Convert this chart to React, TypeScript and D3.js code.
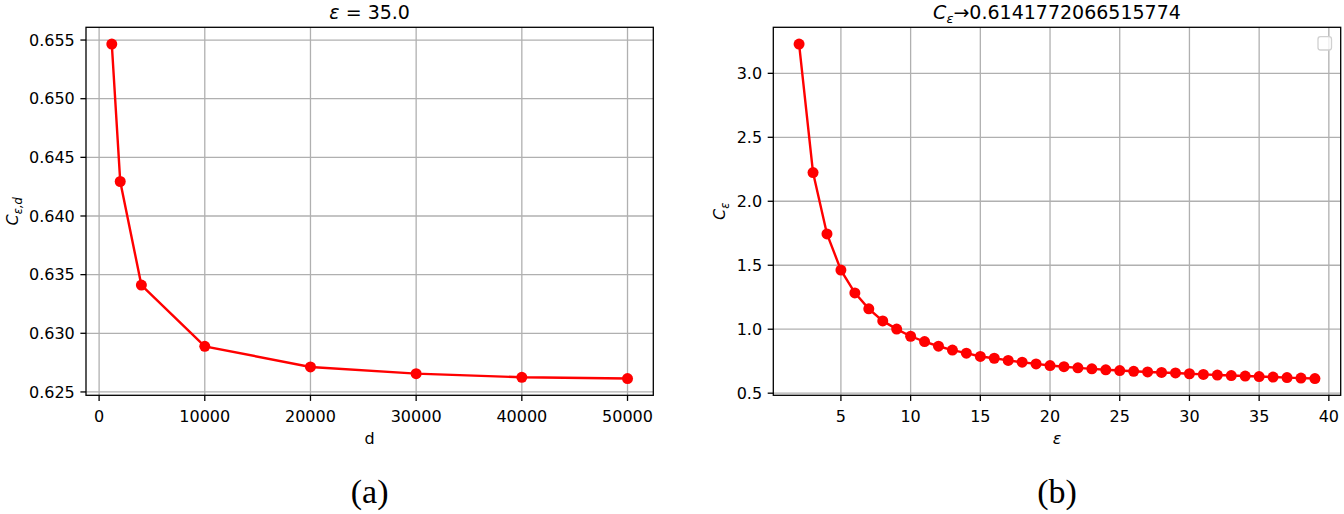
import React from "react";
import * as d3 from "d3";

// ---------- data ----------
const dValues = [1200, 2000, 4000, 10000, 20000, 30000, 40000, 50000];
const cEpsD = [0.65466, 0.64294, 0.63411, 0.62889, 0.62713, 0.62656, 0.62625, 0.62614];
const leftXTicks = [0, 10000, 20000, 30000, 40000, 50000];
const leftYTicks = [0.625, 0.63, 0.635, 0.64, 0.645, 0.65, 0.655];

const epsValues = [
  2, 3, 4, 5, 6, 7, 8, 9, 10, 11, 12, 13, 14, 15, 16, 17, 18, 19, 20, 21, 22,
  23, 24, 25, 26, 27, 28, 29, 30, 31, 32, 33, 34, 35, 36, 37, 38, 39,
];
const cEps = [
  3.229, 2.224, 1.745, 1.462, 1.284, 1.159, 1.065, 1.001, 0.945, 0.903, 0.867,
  0.837, 0.813, 0.787, 0.773, 0.756, 0.742, 0.729, 0.716, 0.707, 0.698, 0.69,
  0.683, 0.677, 0.671, 0.666, 0.662, 0.658, 0.652, 0.647, 0.642, 0.638, 0.634,
  0.63, 0.626, 0.622, 0.618, 0.6142,
];
const rightXTicks = [5, 10, 15, 20, 25, 30, 35, 40];
const rightYTicks = [0.5, 1.0, 1.5, 2.0, 2.5, 3.0];

const leftTitle = "35.0";
const rightTitle = "0.6141772066515774";

// ---------- layout ----------
const W = 1344;
const H = 514;
const TOP = 27.3;
const BOTTOM = 395.3;
const FONT = "DejaVu Sans, sans-serif";
const TICK = 5.6;
const GRID = "#b0b0b0";
const RED = "#ff0000";

function padded(vals: number[]): [number, number] {
  const [lo, hi] = d3.extent(vals) as [number, number];
  const p = (hi - lo) * 0.05;
  return [lo - p, hi + p];
}

type PanelProps = {
  x0: number;
  x1: number;
  xs: number[];
  ys: number[];
  xTicks: number[];
  yTicks: number[];
  xFmt: (v: number) => string;
  yFmt: (v: number) => string;
  title: React.ReactNode;
  xLabel: React.ReactNode;
  yLabel: React.ReactNode;
  yLabelX: number;
  caption: string;
  legend?: boolean;
};

function Panel(p: PanelProps) {
  const x = d3.scaleLinear().domain(padded(p.xs)).range([p.x0, p.x1]);
  const y = d3.scaleLinear().domain(padded(p.ys)).range([BOTTOM, TOP]);
  const pts = p.xs.map((v, i) => [v, p.ys[i]] as [number, number]);
  const line = d3
    .line<[number, number]>()
    .x((d) => x(d[0]))
    .y((d) => y(d[1]));
  const cx = (p.x0 + p.x1) / 2;
  const cy = (TOP + BOTTOM) / 2;
  return (
    <g fontFamily={FONT}>
      {/* grid */}
      {p.xTicks.map((t) => (
        <line
          key={"gx" + t}
          x1={x(t)}
          x2={x(t)}
          y1={TOP}
          y2={BOTTOM}
          stroke={GRID}
          strokeWidth={1.3}
        />
      ))}
      {p.yTicks.map((t) => (
        <line
          key={"gy" + t}
          x1={p.x0}
          x2={p.x1}
          y1={y(t)}
          y2={y(t)}
          stroke={GRID}
          strokeWidth={1.3}
        />
      ))}
      {/* data */}
      <path d={line(pts) || ""} fill="none" stroke={RED} strokeWidth={2.4} />
      {pts.map((d, i) => (
        <circle key={"c" + i} cx={x(d[0])} cy={y(d[1])} r={5.5} fill={RED} />
      ))}
      {/* spines */}
      <rect
        x={p.x0}
        y={TOP}
        width={p.x1 - p.x0}
        height={BOTTOM - TOP}
        fill="none"
        stroke="#000"
        strokeWidth={1.3}
      />
      {/* x ticks */}
      {p.xTicks.map((t) => (
        <g key={"tx" + t}>
          <line x1={x(t)} x2={x(t)} y1={BOTTOM} y2={BOTTOM + TICK} stroke="#000" strokeWidth={1.3} />
          <text x={x(t)} y={421.5} fontSize={16} textAnchor="middle" fill="#000">
            {p.xFmt(t)}
          </text>
        </g>
      ))}
      {/* y ticks */}
      {p.yTicks.map((t) => (
        <g key={"ty" + t}>
          <line x1={p.x0 - TICK} x2={p.x0} y1={y(t)} y2={y(t)} stroke="#000" strokeWidth={1.3} />
          <text
            x={p.x0 - TICK - 5.6}
            y={y(t) + 5.8}
            fontSize={16}
            textAnchor="end"
            fill="#000"
          >
            {p.yFmt(t)}
          </text>
        </g>
      ))}
      {/* title */}
      <text x={cx} y={18.5} fontSize={19} textAnchor="middle" fill="#000">
        {p.title}
      </text>
      {/* x label */}
      <text x={cx} y={444} fontSize={16} textAnchor="middle" fill="#000">
        {p.xLabel}
      </text>
      {/* y label */}
      <text
        transform={`translate(${p.yLabelX},${cy}) rotate(-90)`}
        fontSize={16}
        textAnchor="middle"
        fill="#000"
      >
        {p.yLabel}
      </text>
      {/* caption */}
      <text
        x={cx}
        y={503}
        fontSize={34}
        textAnchor="middle"
        fontFamily="Liberation Serif, DejaVu Serif, serif"
        fill="#000"
      >
        {p.caption}
      </text>
      {p.legend && (
        <rect
          x={p.x1 - 22.7}
          y={36.7}
          width={13.5}
          height={13.3}
          rx={2.5}
          fill="#fff"
          fillOpacity={0.8}
          stroke="#d0d0d0"
          strokeWidth={1.3}
        />
      )}
    </g>
  );
}

export default function App() {
  const f3 = d3.format(".3f");
  const f1 = d3.format(".1f");
  const fi = d3.format("d");
  return (
    <svg
      width={W}
      height={H}
      viewBox={`0 0 ${W} ${H}`}
      style={{ position: "absolute", left: 0, top: 0, background: "#fff" }}
    >
      <rect width={W} height={H} fill="#fff" />
      <Panel
        x0={86}
        x1={653.3}
        xs={dValues}
        ys={cEpsD}
        xTicks={leftXTicks}
        yTicks={leftYTicks}
        xFmt={fi}
        yFmt={f3}
        title={
          <>
            <tspan fontStyle="italic">ε</tspan>
            <tspan> = {leftTitle}</tspan>
          </>
        }
        xLabel="d"
        yLabel={
          <>
            <tspan fontStyle="italic">C</tspan>
            <tspan fontStyle="italic" fontSize={11.5} dy={4}>
              ε,d
            </tspan>
          </>
        }
        yLabelX={18}
        caption="(a)"
      />
      <Panel
        x0={773.3}
        x1={1340.7}
        xs={epsValues}
        ys={cEps}
        xTicks={rightXTicks}
        yTicks={rightYTicks}
        xFmt={fi}
        yFmt={f1}
        title={
          <>
            <tspan fontStyle="italic">C</tspan>
            <tspan fontStyle="italic" fontSize={13} dy={4}>
              ε
            </tspan>
            <tspan dy={-4}>→{rightTitle}</tspan>
          </>
        }
        xLabel={<tspan fontStyle="italic">ε</tspan>}
        yLabel={
          <>
            <tspan fontStyle="italic">C</tspan>
            <tspan fontStyle="italic" fontSize={11.5} dy={4}>
              ε
            </tspan>
          </>
        }
        yLabelX={725}
        caption="(b)"
        legend
      />
    </svg>
  );
}
